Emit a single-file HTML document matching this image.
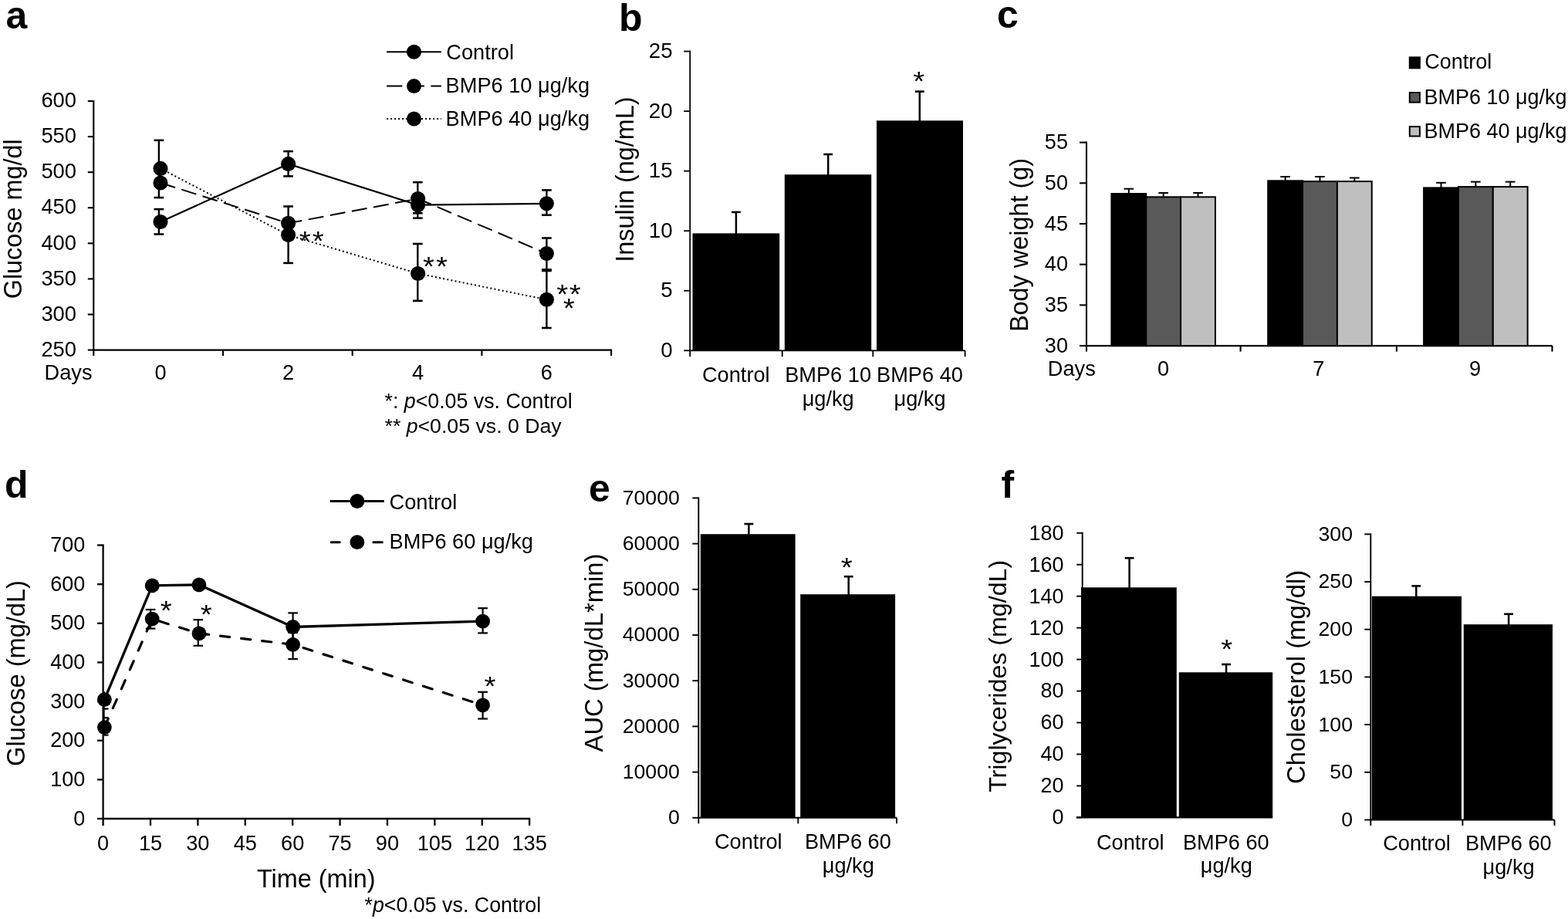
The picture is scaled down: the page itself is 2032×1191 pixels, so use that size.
<!DOCTYPE html>
<html><head><meta charset="utf-8"><title>Figure</title>
<style>
html,body{margin:0;padding:0;background:#fff;}
svg{display:block;}
text{font-family:"Liberation Sans",Arial,sans-serif;fill:#000;}
</style></head>
<body>
<svg width="2032" height="1191" viewBox="0 0 2032 1191">
<rect width="2032" height="1191" fill="#fff"/>
<g stroke="#000" fill="#000" stroke-linecap="butt">
<g font-weight="bold" font-size="50">
<text stroke="none" x="7.50" y="36.50" font-size="50" >a</text>
<text stroke="none" x="802.00" y="39.50" font-size="50" >b</text>
<text stroke="none" x="1292.00" y="36.00" font-size="50" >c</text>
<text stroke="none" x="6.00" y="645.00" font-size="50" >d</text>
<text stroke="none" x="763.00" y="650.00" font-size="50" >e</text>
<text stroke="none" x="1297.50" y="645.00" font-size="50" >f</text>
</g>
<line x1="121.30" y1="130.00" x2="121.30" y2="454.60" stroke-width="2.1" />
<line x1="120.30" y1="453.60" x2="793.10" y2="453.60" stroke-width="2.1" />
<line x1="113.80" y1="453.60" x2="121.30" y2="453.60" stroke-width="2.1" />
<text stroke="none" x="99.10" y="461.80" font-size="27.4" text-anchor="end" >250</text>
<line x1="113.80" y1="407.51" x2="121.30" y2="407.51" stroke-width="2.1" />
<text stroke="none" x="99.10" y="415.71" font-size="27.4" text-anchor="end" >300</text>
<line x1="113.80" y1="361.43" x2="121.30" y2="361.43" stroke-width="2.1" />
<text stroke="none" x="99.10" y="369.63" font-size="27.4" text-anchor="end" >350</text>
<line x1="113.80" y1="315.34" x2="121.30" y2="315.34" stroke-width="2.1" />
<text stroke="none" x="99.10" y="323.54" font-size="27.4" text-anchor="end" >400</text>
<line x1="113.80" y1="269.26" x2="121.30" y2="269.26" stroke-width="2.1" />
<text stroke="none" x="99.10" y="277.46" font-size="27.4" text-anchor="end" >450</text>
<line x1="113.80" y1="223.17" x2="121.30" y2="223.17" stroke-width="2.1" />
<text stroke="none" x="99.10" y="231.37" font-size="27.4" text-anchor="end" >500</text>
<line x1="113.80" y1="177.09" x2="121.30" y2="177.09" stroke-width="2.1" />
<text stroke="none" x="99.10" y="185.29" font-size="27.4" text-anchor="end" >550</text>
<line x1="113.80" y1="131.00" x2="121.30" y2="131.00" stroke-width="2.1" />
<text stroke="none" x="99.10" y="139.20" font-size="27.4" text-anchor="end" >600</text>
<line x1="121.30" y1="453.60" x2="121.30" y2="461.10" stroke-width="2.1" />
<line x1="289.00" y1="453.60" x2="289.00" y2="461.10" stroke-width="2.1" />
<line x1="456.70" y1="453.60" x2="456.70" y2="461.10" stroke-width="2.1" />
<line x1="624.40" y1="453.60" x2="624.40" y2="461.10" stroke-width="2.1" />
<line x1="792.10" y1="453.60" x2="792.10" y2="461.10" stroke-width="2.1" />
<text stroke="none" x="208.00" y="492.40" font-size="27.2" text-anchor="middle" >0</text>
<text stroke="none" x="373.60" y="492.40" font-size="27.2" text-anchor="middle" >2</text>
<text stroke="none" x="541.60" y="492.40" font-size="27.2" text-anchor="middle" >4</text>
<text stroke="none" x="708.40" y="492.40" font-size="27.2" text-anchor="middle" >6</text>
<text stroke="none" x="57.60" y="492.40" font-size="27.2" >Days</text>
<text stroke="none" transform="translate(28.20,283.80) rotate(-90)" font-size="32.4" text-anchor="middle">Glucose mg/dl</text>
<polyline points="208.00,287.50 373.60,212.40 541.60,265.70 708.40,263.80" fill="none" stroke-width="2.2"/>
<polyline points="208.00,237.00 373.60,289.30 541.60,257.50 708.40,328.60" fill="none" stroke-width="2" stroke-dasharray="20 8.6"/>
<polyline points="208.00,218.40 373.60,304.60 541.60,354.50 708.40,388.20" fill="none" stroke-width="2" stroke-dasharray="2 3.2"/>
<line x1="205.90" y1="271.10" x2="205.90" y2="303.50" stroke-width="2.4" />
<line x1="199.55" y1="271.10" x2="212.25" y2="271.10" stroke-width="2.6" />
<line x1="199.55" y1="303.50" x2="212.25" y2="303.50" stroke-width="2.6" />
<line x1="205.90" y1="181.80" x2="205.90" y2="256.10" stroke-width="2.4" />
<line x1="199.55" y1="181.80" x2="212.25" y2="181.80" stroke-width="2.6" />
<line x1="199.55" y1="256.10" x2="212.25" y2="256.10" stroke-width="2.6" />
<line x1="373.60" y1="196.10" x2="373.60" y2="228.40" stroke-width="2.4" />
<line x1="367.25" y1="196.10" x2="379.95" y2="196.10" stroke-width="2.6" />
<line x1="367.25" y1="228.40" x2="379.95" y2="228.40" stroke-width="2.6" />
<line x1="373.60" y1="267.50" x2="373.60" y2="340.90" stroke-width="2.4" />
<line x1="367.25" y1="267.50" x2="379.95" y2="267.50" stroke-width="2.6" />
<line x1="367.25" y1="340.90" x2="379.95" y2="340.90" stroke-width="2.6" />
<line x1="541.30" y1="236.20" x2="541.30" y2="282.70" stroke-width="2.4" />
<line x1="534.95" y1="236.20" x2="547.65" y2="236.20" stroke-width="2.6" />
<line x1="534.95" y1="282.70" x2="547.65" y2="282.70" stroke-width="2.6" />
<line x1="541.30" y1="276.30" x2="541.30" y2="276.30" stroke-width="2.4" />
<line x1="534.95" y1="276.30" x2="547.65" y2="276.30" stroke-width="2.6" />
<line x1="541.30" y1="316.00" x2="541.30" y2="389.90" stroke-width="2.4" />
<line x1="534.95" y1="316.00" x2="547.65" y2="316.00" stroke-width="2.6" />
<line x1="534.95" y1="389.90" x2="547.65" y2="389.90" stroke-width="2.6" />
<line x1="708.40" y1="246.40" x2="708.40" y2="278.70" stroke-width="2.4" />
<line x1="702.05" y1="246.40" x2="714.75" y2="246.40" stroke-width="2.6" />
<line x1="702.05" y1="278.70" x2="714.75" y2="278.70" stroke-width="2.6" />
<line x1="708.40" y1="308.50" x2="708.40" y2="425.00" stroke-width="2.4" />
<line x1="702.05" y1="308.50" x2="714.75" y2="308.50" stroke-width="2.6" />
<line x1="702.05" y1="425.00" x2="714.75" y2="425.00" stroke-width="2.6" />
<line x1="708.40" y1="350.20" x2="708.40" y2="350.20" stroke-width="2.4" />
<line x1="702.05" y1="350.20" x2="714.75" y2="350.20" stroke-width="2.6" />
<line x1="702.10" y1="350.20" x2="714.70" y2="350.20" stroke-width="4.2" />
<circle cx="208.00" cy="287.50" r="9.55" fill="#000" stroke="none"/>
<circle cx="373.60" cy="212.40" r="9.55" fill="#000" stroke="none"/>
<circle cx="541.60" cy="265.70" r="9.55" fill="#000" stroke="none"/>
<circle cx="708.40" cy="263.80" r="9.55" fill="#000" stroke="none"/>
<circle cx="208.00" cy="237.00" r="9.55" fill="#000" stroke="none"/>
<circle cx="373.60" cy="289.30" r="9.55" fill="#000" stroke="none"/>
<circle cx="541.60" cy="257.50" r="9.55" fill="#000" stroke="none"/>
<circle cx="708.40" cy="328.60" r="9.55" fill="#000" stroke="none"/>
<circle cx="208.00" cy="218.40" r="9.55" fill="#000" stroke="none"/>
<circle cx="373.60" cy="304.60" r="9.55" fill="#000" stroke="none"/>
<circle cx="541.60" cy="354.50" r="9.55" fill="#000" stroke="none"/>
<circle cx="708.40" cy="388.20" r="9.55" fill="#000" stroke="none"/>
<text stroke="none" transform="translate(395.35,305.90) scale(1,0.9)" x="-7.50" y="19.73" font-size="38.5" stroke="#000" stroke-width="0.45">*</text>
<text stroke="none" transform="translate(412.20,305.90) scale(1,0.9)" x="-7.50" y="19.73" font-size="38.5" stroke="#000" stroke-width="0.45">*</text>
<text stroke="none" transform="translate(555.40,339.35) scale(1,0.9)" x="-7.50" y="19.73" font-size="38.5" stroke="#000" stroke-width="0.45">*</text>
<text stroke="none" transform="translate(572.40,339.35) scale(1,0.9)" x="-7.50" y="19.73" font-size="38.5" stroke="#000" stroke-width="0.45">*</text>
<text stroke="none" transform="translate(728.85,375.00) scale(1,0.9)" x="-7.50" y="19.73" font-size="38.5" stroke="#000" stroke-width="0.45">*</text>
<text stroke="none" transform="translate(745.15,375.00) scale(1,0.9)" x="-7.50" y="19.73" font-size="38.5" stroke="#000" stroke-width="0.45">*</text>
<text stroke="none" transform="translate(737.35,392.80) scale(1,0.9)" x="-7.50" y="19.73" font-size="38.5" stroke="#000" stroke-width="0.45">*</text>
<line x1="501.10" y1="67.30" x2="571.90" y2="67.30" stroke-width="2" />
<circle cx="536.50" cy="67.30" r="9.5" fill="#000" stroke="none"/>
<line x1="501.10" y1="111.60" x2="571.90" y2="111.60" stroke-width="2" stroke-dasharray="20.2 8.4"/>
<circle cx="536.50" cy="111.60" r="9.5" fill="#000" stroke="none"/>
<line x1="501.10" y1="154.00" x2="571.90" y2="154.00" stroke-width="2" stroke-dasharray="2 3"/>
<circle cx="536.50" cy="154.00" r="9.5" fill="#000" stroke="none"/>
<text stroke="none" x="578.30" y="76.90" font-size="27.2" >Control</text>
<text stroke="none" x="577.60" y="119.70" font-size="27.2" >BMP6 10 μg/kg</text>
<text stroke="none" x="577.60" y="163.30" font-size="27.2" >BMP6 40 μg/kg</text>
<text stroke="none" x="498.50" y="528.80" font-size="26.75" >*: <tspan font-style="italic">p</tspan>&lt;0.05 vs. Control</text>
<text stroke="none" x="498.50" y="560.80" font-size="26.7" >** <tspan font-style="italic">p</tspan>&lt;0.05 vs. 0 Day</text>
<line x1="894.20" y1="65.55" x2="894.20" y2="455.30" stroke-width="1.8" />
<line x1="893.20" y1="454.30" x2="1250.80" y2="454.30" stroke-width="1.8" />
<line x1="886.20" y1="454.30" x2="894.20" y2="454.30" stroke-width="1.8" />
<text stroke="none" x="871.60" y="463.00" font-size="27.7" text-anchor="end" >0</text>
<line x1="886.20" y1="376.75" x2="894.20" y2="376.75" stroke-width="1.8" />
<text stroke="none" x="871.60" y="385.45" font-size="27.7" text-anchor="end" >5</text>
<line x1="886.20" y1="299.20" x2="894.20" y2="299.20" stroke-width="1.8" />
<text stroke="none" x="871.60" y="307.90" font-size="27.7" text-anchor="end" >10</text>
<line x1="886.20" y1="221.65" x2="894.20" y2="221.65" stroke-width="1.8" />
<text stroke="none" x="871.60" y="230.35" font-size="27.7" text-anchor="end" >15</text>
<line x1="886.20" y1="144.10" x2="894.20" y2="144.10" stroke-width="1.8" />
<text stroke="none" x="871.60" y="152.80" font-size="27.7" text-anchor="end" >20</text>
<line x1="886.20" y1="66.55" x2="894.20" y2="66.55" stroke-width="1.8" />
<text stroke="none" x="871.60" y="75.25" font-size="27.7" text-anchor="end" >25</text>
<line x1="894.20" y1="454.30" x2="894.20" y2="462.30" stroke-width="1.8" />
<line x1="1013.70" y1="454.30" x2="1013.70" y2="462.30" stroke-width="1.8" />
<line x1="1131.30" y1="454.30" x2="1131.30" y2="462.30" stroke-width="1.8" />
<line x1="1250.60" y1="454.30" x2="1250.60" y2="462.30" stroke-width="1.8" />
<rect x="897.50" y="302.40" width="112.70" height="151.90" fill="#000" stroke="none"/>
<rect x="1016.80" y="226.20" width="112.40" height="228.10" fill="#000" stroke="none"/>
<rect x="1136.00" y="156.30" width="112.00" height="298.00" fill="#000" stroke="none"/>
<line x1="953.90" y1="274.90" x2="953.90" y2="303.40" stroke-width="2.5" />
<line x1="948.00" y1="274.90" x2="959.80" y2="274.90" stroke-width="2.6" />
<line x1="1073.20" y1="200.00" x2="1073.20" y2="227.20" stroke-width="2.5" />
<line x1="1067.30" y1="200.00" x2="1079.10" y2="200.00" stroke-width="2.6" />
<line x1="1191.80" y1="118.60" x2="1191.80" y2="157.30" stroke-width="2.5" />
<line x1="1185.90" y1="118.60" x2="1197.70" y2="118.60" stroke-width="2.6" />
<text stroke="none" transform="translate(1190.75,99.30) scale(1,0.9)" x="-7.50" y="19.73" font-size="38.5" stroke="#000" stroke-width="0.45">*</text>
<text stroke="none" x="953.80" y="494.90" font-size="27.2" text-anchor="middle" >Control</text>
<text stroke="none" x="1073.10" y="494.90" font-size="27.2" text-anchor="middle" >BMP6 10</text>
<text stroke="none" x="1073.20" y="525.70" font-size="27.2" text-anchor="middle" >μg/kg</text>
<text stroke="none" x="1192.00" y="494.90" font-size="27.2" text-anchor="middle" >BMP6 40</text>
<text stroke="none" x="1192.00" y="525.70" font-size="27.2" text-anchor="middle" >μg/kg</text>
<text stroke="none" transform="translate(821.00,232.60) rotate(-90)" font-size="32.4" text-anchor="middle">Insulin (ng/mL)</text>
<line x1="1408.00" y1="183.60" x2="1408.00" y2="449.10" stroke-width="2.1" />
<line x1="1407.00" y1="448.10" x2="2011.50" y2="448.10" stroke-width="2.1" />
<line x1="1399.00" y1="448.10" x2="1408.00" y2="448.10" stroke-width="2.1" />
<text stroke="none" x="1384.00" y="456.80" font-size="27.1" text-anchor="end" >30</text>
<line x1="1399.00" y1="395.40" x2="1408.00" y2="395.40" stroke-width="2.1" />
<text stroke="none" x="1384.00" y="404.10" font-size="27.1" text-anchor="end" >35</text>
<line x1="1399.00" y1="342.70" x2="1408.00" y2="342.70" stroke-width="2.1" />
<text stroke="none" x="1384.00" y="351.40" font-size="27.1" text-anchor="end" >40</text>
<line x1="1399.00" y1="290.00" x2="1408.00" y2="290.00" stroke-width="2.1" />
<text stroke="none" x="1384.00" y="298.70" font-size="27.1" text-anchor="end" >45</text>
<line x1="1399.00" y1="237.30" x2="1408.00" y2="237.30" stroke-width="2.1" />
<text stroke="none" x="1384.00" y="246.00" font-size="27.1" text-anchor="end" >50</text>
<line x1="1399.00" y1="184.60" x2="1408.00" y2="184.60" stroke-width="2.1" />
<text stroke="none" x="1384.00" y="193.30" font-size="27.1" text-anchor="end" >55</text>
<line x1="1408.00" y1="448.10" x2="1408.00" y2="455.60" stroke-width="2.1" />
<line x1="1607.60" y1="448.10" x2="1607.60" y2="455.60" stroke-width="2.1" />
<line x1="1809.90" y1="448.10" x2="1809.90" y2="455.60" stroke-width="2.1" />
<line x1="2011.50" y1="448.10" x2="2011.50" y2="455.60" stroke-width="2.1" />
<rect x="1440.40" y="251.00" width="44.85" height="197.10" fill="#000000" stroke="#000" stroke-width="2"/>
<rect x="1485.25" y="255.30" width="44.85" height="192.80" fill="#595959" stroke="#000" stroke-width="2"/>
<rect x="1530.10" y="255.30" width="44.85" height="192.80" fill="#bfbfbf" stroke="#000" stroke-width="2"/>
<line x1="1462.82" y1="244.70" x2="1462.82" y2="251.00" stroke-width="2" />
<line x1="1456.52" y1="244.70" x2="1469.12" y2="244.70" stroke-width="2" />
<line x1="1507.67" y1="250.00" x2="1507.67" y2="255.30" stroke-width="2" />
<line x1="1501.37" y1="250.00" x2="1513.97" y2="250.00" stroke-width="2" />
<line x1="1552.52" y1="250.00" x2="1552.52" y2="255.30" stroke-width="2" />
<line x1="1546.22" y1="250.00" x2="1558.82" y2="250.00" stroke-width="2" />
<rect x="1643.20" y="234.30" width="44.85" height="213.80" fill="#000000" stroke="#000" stroke-width="2"/>
<rect x="1688.05" y="235.10" width="44.85" height="213.00" fill="#595959" stroke="#000" stroke-width="2"/>
<rect x="1732.90" y="235.10" width="44.85" height="213.00" fill="#bfbfbf" stroke="#000" stroke-width="2"/>
<line x1="1665.62" y1="229.00" x2="1665.62" y2="234.30" stroke-width="2" />
<line x1="1659.32" y1="229.00" x2="1671.92" y2="229.00" stroke-width="2" />
<line x1="1710.47" y1="229.00" x2="1710.47" y2="235.10" stroke-width="2" />
<line x1="1704.17" y1="229.00" x2="1716.77" y2="229.00" stroke-width="2" />
<line x1="1755.32" y1="230.50" x2="1755.32" y2="235.10" stroke-width="2" />
<line x1="1749.02" y1="230.50" x2="1761.62" y2="230.50" stroke-width="2" />
<rect x="1845.10" y="243.40" width="44.85" height="204.70" fill="#000000" stroke="#000" stroke-width="2"/>
<rect x="1889.95" y="242.10" width="44.85" height="206.00" fill="#595959" stroke="#000" stroke-width="2"/>
<rect x="1934.80" y="242.10" width="44.85" height="206.00" fill="#bfbfbf" stroke="#000" stroke-width="2"/>
<line x1="1867.52" y1="236.80" x2="1867.52" y2="243.40" stroke-width="2" />
<line x1="1861.22" y1="236.80" x2="1873.82" y2="236.80" stroke-width="2" />
<line x1="1912.37" y1="235.60" x2="1912.37" y2="242.10" stroke-width="2" />
<line x1="1906.07" y1="235.60" x2="1918.67" y2="235.60" stroke-width="2" />
<line x1="1957.22" y1="235.60" x2="1957.22" y2="242.10" stroke-width="2" />
<line x1="1950.92" y1="235.60" x2="1963.52" y2="235.60" stroke-width="2" />
<text stroke="none" x="1507.60" y="486.90" font-size="27.2" text-anchor="middle" >0</text>
<text stroke="none" x="1708.90" y="486.90" font-size="27.2" text-anchor="middle" >7</text>
<text stroke="none" x="1911.50" y="486.90" font-size="27.2" text-anchor="middle" >9</text>
<text stroke="none" x="1357.80" y="486.90" font-size="27.2" >Days</text>
<text stroke="none" transform="translate(1332.00,317.50) rotate(-90)" font-size="32.4" text-anchor="middle">Body weight (g)</text>
<rect x="1826.80" y="74.30" width="13.10" height="14.00" fill="#000000" stroke="#000" stroke-width="2"/>
<rect x="1826.80" y="120.00" width="13.10" height="12.60" fill="#595959" stroke="#000" stroke-width="2"/>
<rect x="1826.80" y="164.10" width="13.10" height="12.40" fill="#bfbfbf" stroke="#000" stroke-width="2"/>
<text stroke="none" x="1846.20" y="89.30" font-size="27.0" >Control</text>
<text stroke="none" x="1845.50" y="134.60" font-size="26.97" >BMP6 10 μg/kg</text>
<text stroke="none" x="1845.50" y="178.50" font-size="26.97" >BMP6 40 μg/kg</text>
<line x1="133.60" y1="705.52" x2="133.60" y2="1062.00" stroke-width="2.3" />
<line x1="132.60" y1="1061.00" x2="687.15" y2="1061.00" stroke-width="2.3" />
<line x1="126.10" y1="1061.00" x2="133.60" y2="1061.00" stroke-width="2.3" />
<text stroke="none" x="110.30" y="1069.50" font-size="27.05" text-anchor="end" >0</text>
<line x1="126.10" y1="1010.36" x2="133.60" y2="1010.36" stroke-width="2.3" />
<text stroke="none" x="110.30" y="1018.86" font-size="27.05" text-anchor="end" >100</text>
<line x1="126.10" y1="959.72" x2="133.60" y2="959.72" stroke-width="2.3" />
<text stroke="none" x="110.30" y="968.22" font-size="27.05" text-anchor="end" >200</text>
<line x1="126.10" y1="909.08" x2="133.60" y2="909.08" stroke-width="2.3" />
<text stroke="none" x="110.30" y="917.58" font-size="27.05" text-anchor="end" >300</text>
<line x1="126.10" y1="858.44" x2="133.60" y2="858.44" stroke-width="2.3" />
<text stroke="none" x="110.30" y="866.94" font-size="27.05" text-anchor="end" >400</text>
<line x1="126.10" y1="807.80" x2="133.60" y2="807.80" stroke-width="2.3" />
<text stroke="none" x="110.30" y="816.30" font-size="27.05" text-anchor="end" >500</text>
<line x1="126.10" y1="757.16" x2="133.60" y2="757.16" stroke-width="2.3" />
<text stroke="none" x="110.30" y="765.66" font-size="27.05" text-anchor="end" >600</text>
<line x1="126.10" y1="706.52" x2="133.60" y2="706.52" stroke-width="2.3" />
<text stroke="none" x="110.30" y="715.02" font-size="27.05" text-anchor="end" >700</text>
<line x1="133.60" y1="1061.00" x2="133.60" y2="1070.00" stroke-width="2.3" />
<text stroke="none" x="133.60" y="1102.40" font-size="27.2" text-anchor="middle" >0</text>
<line x1="195.00" y1="1061.00" x2="195.00" y2="1070.00" stroke-width="2.3" />
<text stroke="none" x="195.00" y="1102.40" font-size="27.2" text-anchor="middle" >15</text>
<line x1="256.39" y1="1061.00" x2="256.39" y2="1070.00" stroke-width="2.3" />
<text stroke="none" x="256.39" y="1102.40" font-size="27.2" text-anchor="middle" >30</text>
<line x1="317.78" y1="1061.00" x2="317.78" y2="1070.00" stroke-width="2.3" />
<text stroke="none" x="317.78" y="1102.40" font-size="27.2" text-anchor="middle" >45</text>
<line x1="379.18" y1="1061.00" x2="379.18" y2="1070.00" stroke-width="2.3" />
<text stroke="none" x="379.18" y="1102.40" font-size="27.2" text-anchor="middle" >60</text>
<line x1="440.58" y1="1061.00" x2="440.58" y2="1070.00" stroke-width="2.3" />
<text stroke="none" x="440.58" y="1102.40" font-size="27.2" text-anchor="middle" >75</text>
<line x1="501.97" y1="1061.00" x2="501.97" y2="1070.00" stroke-width="2.3" />
<text stroke="none" x="501.97" y="1102.40" font-size="27.2" text-anchor="middle" >90</text>
<line x1="563.37" y1="1061.00" x2="563.37" y2="1070.00" stroke-width="2.3" />
<text stroke="none" x="563.37" y="1102.40" font-size="27.2" text-anchor="middle" >105</text>
<line x1="624.76" y1="1061.00" x2="624.76" y2="1070.00" stroke-width="2.3" />
<text stroke="none" x="624.76" y="1102.40" font-size="27.2" text-anchor="middle" >120</text>
<line x1="686.15" y1="1061.00" x2="686.15" y2="1070.00" stroke-width="2.3" />
<text stroke="none" x="686.15" y="1102.40" font-size="27.2" text-anchor="middle" >135</text>
<text stroke="none" x="409.80" y="1150.00" font-size="32.4" text-anchor="middle" >Time (min)</text>
<text stroke="none" transform="translate(31.60,872.50) rotate(-90)" font-size="32.6" text-anchor="middle">Glucose (mg/dL)</text>
<polyline points="135.40,906.60 197.20,758.90 258.00,757.90 379.60,812.50 625.60,805.20" fill="none" stroke-width="3.3" stroke-linejoin="round"/>
<polyline points="135.40,942.60 197.20,802.20 258.00,820.90 379.60,835.30 625.60,913.80" fill="none" stroke-width="3.2" stroke-dasharray="12.2 15" stroke-linecap="round"/>
<line x1="195.10" y1="790.00" x2="195.10" y2="814.60" stroke-width="2.2" />
<line x1="188.80" y1="790.00" x2="201.40" y2="790.00" stroke-width="2.2" />
<line x1="188.80" y1="814.60" x2="201.40" y2="814.60" stroke-width="2.2" />
<line x1="256.80" y1="803.20" x2="256.80" y2="836.80" stroke-width="2.2" />
<line x1="250.50" y1="803.20" x2="263.10" y2="803.20" stroke-width="2.2" />
<line x1="250.50" y1="836.80" x2="263.10" y2="836.80" stroke-width="2.2" />
<line x1="379.60" y1="794.40" x2="379.60" y2="830.00" stroke-width="2.2" />
<line x1="373.30" y1="794.40" x2="385.90" y2="794.40" stroke-width="2.2" />
<line x1="373.30" y1="830.00" x2="385.90" y2="830.00" stroke-width="2.2" />
<line x1="379.60" y1="820.00" x2="379.60" y2="854.10" stroke-width="2.2" />
<line x1="373.30" y1="820.00" x2="385.90" y2="820.00" stroke-width="2.2" />
<line x1="373.30" y1="854.10" x2="385.90" y2="854.10" stroke-width="2.2" />
<line x1="625.60" y1="788.20" x2="625.60" y2="820.40" stroke-width="2.2" />
<line x1="619.30" y1="788.20" x2="631.90" y2="788.20" stroke-width="2.2" />
<line x1="619.30" y1="820.40" x2="631.90" y2="820.40" stroke-width="2.2" />
<line x1="625.60" y1="896.80" x2="625.60" y2="931.50" stroke-width="2.2" />
<line x1="619.30" y1="896.80" x2="631.90" y2="896.80" stroke-width="2.2" />
<line x1="619.30" y1="931.50" x2="631.90" y2="931.50" stroke-width="2.2" />
<line x1="134.60" y1="896.00" x2="134.60" y2="952.60" stroke-width="2.2" />
<line x1="133.60" y1="918.60" x2="140.50" y2="918.60" stroke-width="2.2" />
<line x1="133.60" y1="930.20" x2="140.50" y2="930.20" stroke-width="2.2" />
<line x1="133.60" y1="952.60" x2="140.50" y2="952.60" stroke-width="2.2" />
<circle cx="135.40" cy="906.60" r="9.4" fill="#000" stroke="none"/>
<circle cx="197.20" cy="758.90" r="9.4" fill="#000" stroke="none"/>
<circle cx="258.00" cy="757.90" r="9.4" fill="#000" stroke="none"/>
<circle cx="379.60" cy="812.50" r="9.4" fill="#000" stroke="none"/>
<circle cx="625.60" cy="805.20" r="9.4" fill="#000" stroke="none"/>
<circle cx="135.40" cy="942.60" r="9.4" fill="#000" stroke="none"/>
<circle cx="197.20" cy="802.20" r="9.4" fill="#000" stroke="none"/>
<circle cx="258.00" cy="820.90" r="9.4" fill="#000" stroke="none"/>
<circle cx="379.60" cy="835.30" r="9.4" fill="#000" stroke="none"/>
<circle cx="625.60" cy="913.80" r="9.4" fill="#000" stroke="none"/>
<text stroke="none" transform="translate(215.20,784.75) scale(1,0.9)" x="-7.50" y="19.73" font-size="38.5" stroke="#000" stroke-width="0.45">*</text>
<text stroke="none" transform="translate(267.20,790.55) scale(1,0.9)" x="-7.50" y="19.73" font-size="38.5" stroke="#000" stroke-width="0.45">*</text>
<text stroke="none" transform="translate(635.00,883.00) scale(1,0.9)" x="-7.50" y="19.73" font-size="38.5" stroke="#000" stroke-width="0.45">*</text>
<line x1="427.70" y1="649.50" x2="497.80" y2="649.50" stroke-width="3" />
<line x1="429.20" y1="702.70" x2="440.20" y2="702.70" stroke-width="3" stroke-linecap="round"/>
<line x1="483.80" y1="702.70" x2="495.30" y2="702.70" stroke-width="3" stroke-linecap="round"/>
<circle cx="462.90" cy="649.50" r="9.4" fill="#000" stroke="none"/>
<circle cx="462.90" cy="702.70" r="9.4" fill="#000" stroke="none"/>
<text stroke="none" x="504.60" y="659.60" font-size="27.2" >Control</text>
<text stroke="none" x="504.50" y="710.80" font-size="27.2" >BMP6 60 μg/kg</text>
<text stroke="none" x="472.50" y="1181.50" font-size="26.8" >*<tspan font-style="italic">p</tspan>&lt;0.05 vs. Control</text>
<line x1="905.30" y1="644.40" x2="905.30" y2="1060.80" stroke-width="1.9" />
<line x1="904.30" y1="1059.80" x2="1162.00" y2="1059.80" stroke-width="1.9" />
<line x1="897.30" y1="1059.80" x2="905.30" y2="1059.80" stroke-width="1.9" />
<text stroke="none" x="880.80" y="1068.20" font-size="26.65" text-anchor="end" >0</text>
<line x1="897.30" y1="1000.60" x2="905.30" y2="1000.60" stroke-width="1.9" />
<text stroke="none" x="880.80" y="1009.00" font-size="26.65" text-anchor="end" >10000</text>
<line x1="897.30" y1="941.40" x2="905.30" y2="941.40" stroke-width="1.9" />
<text stroke="none" x="880.80" y="949.80" font-size="26.65" text-anchor="end" >20000</text>
<line x1="897.30" y1="882.20" x2="905.30" y2="882.20" stroke-width="1.9" />
<text stroke="none" x="880.80" y="890.60" font-size="26.65" text-anchor="end" >30000</text>
<line x1="897.30" y1="823.00" x2="905.30" y2="823.00" stroke-width="1.9" />
<text stroke="none" x="880.80" y="831.40" font-size="26.65" text-anchor="end" >40000</text>
<line x1="897.30" y1="763.80" x2="905.30" y2="763.80" stroke-width="1.9" />
<text stroke="none" x="880.80" y="772.20" font-size="26.65" text-anchor="end" >50000</text>
<line x1="897.30" y1="704.60" x2="905.30" y2="704.60" stroke-width="1.9" />
<text stroke="none" x="880.80" y="713.00" font-size="26.65" text-anchor="end" >60000</text>
<line x1="897.30" y1="645.40" x2="905.30" y2="645.40" stroke-width="1.9" />
<text stroke="none" x="880.80" y="653.80" font-size="26.65" text-anchor="end" >70000</text>
<line x1="905.30" y1="1059.80" x2="905.30" y2="1067.30" stroke-width="1.9" />
<line x1="1034.30" y1="1059.80" x2="1034.30" y2="1067.30" stroke-width="1.9" />
<line x1="1162.00" y1="1059.80" x2="1162.00" y2="1067.30" stroke-width="1.9" />
<rect x="907.80" y="692.20" width="122.80" height="367.60" fill="#000" stroke="none"/>
<rect x="1037.20" y="770.20" width="122.90" height="289.60" fill="#000" stroke="none"/>
<line x1="970.40" y1="679.00" x2="970.40" y2="693.20" stroke-width="2.5" />
<line x1="964.50" y1="679.00" x2="976.30" y2="679.00" stroke-width="2.6" />
<line x1="1099.70" y1="747.20" x2="1099.70" y2="771.20" stroke-width="2.5" />
<line x1="1093.80" y1="747.20" x2="1105.60" y2="747.20" stroke-width="2.6" />
<text stroke="none" transform="translate(1097.35,729.25) scale(1,0.9)" x="-7.50" y="19.73" font-size="38.5" stroke="#000" stroke-width="0.45">*</text>
<text stroke="none" x="969.80" y="1099.60" font-size="27.2" text-anchor="middle" >Control</text>
<text stroke="none" x="1098.90" y="1099.60" font-size="27.2" text-anchor="middle" >BMP6 60</text>
<text stroke="none" x="1099.30" y="1130.60" font-size="27.2" text-anchor="middle" >μg/kg</text>
<text stroke="none" transform="translate(781.10,846.00) rotate(-90)" font-size="32.8" text-anchor="middle">AUC (mg/dL*min)</text>
<line x1="1402.70" y1="689.76" x2="1402.70" y2="1059.40" stroke-width="1.9" />
<line x1="1394.80" y1="1059.40" x2="1649.20" y2="1059.40" stroke-width="2.2" />
<line x1="1395.20" y1="1059.40" x2="1402.70" y2="1059.40" stroke-width="1.9" />
<text stroke="none" x="1378.60" y="1068.30" font-size="27.0" text-anchor="end" >0</text>
<line x1="1395.20" y1="1018.44" x2="1402.70" y2="1018.44" stroke-width="1.9" />
<text stroke="none" x="1378.60" y="1027.34" font-size="27.0" text-anchor="end" >20</text>
<line x1="1395.20" y1="977.48" x2="1402.70" y2="977.48" stroke-width="1.9" />
<text stroke="none" x="1378.60" y="986.38" font-size="27.0" text-anchor="end" >40</text>
<line x1="1395.20" y1="936.52" x2="1402.70" y2="936.52" stroke-width="1.9" />
<text stroke="none" x="1378.60" y="945.42" font-size="27.0" text-anchor="end" >60</text>
<line x1="1395.20" y1="895.56" x2="1402.70" y2="895.56" stroke-width="1.9" />
<text stroke="none" x="1378.60" y="904.46" font-size="27.0" text-anchor="end" >80</text>
<line x1="1395.20" y1="854.60" x2="1402.70" y2="854.60" stroke-width="1.9" />
<text stroke="none" x="1378.60" y="863.50" font-size="27.0" text-anchor="end" >100</text>
<line x1="1395.20" y1="813.64" x2="1402.70" y2="813.64" stroke-width="1.9" />
<text stroke="none" x="1378.60" y="822.54" font-size="27.0" text-anchor="end" >120</text>
<line x1="1395.20" y1="772.68" x2="1402.70" y2="772.68" stroke-width="1.9" />
<text stroke="none" x="1378.60" y="781.58" font-size="27.0" text-anchor="end" >140</text>
<line x1="1395.20" y1="731.72" x2="1402.70" y2="731.72" stroke-width="1.9" />
<text stroke="none" x="1378.60" y="740.62" font-size="27.0" text-anchor="end" >160</text>
<line x1="1395.20" y1="690.76" x2="1402.70" y2="690.76" stroke-width="1.9" />
<text stroke="none" x="1378.60" y="699.66" font-size="27.0" text-anchor="end" >180</text>
<rect x="1401.00" y="761.30" width="123.80" height="298.10" fill="#000" stroke="none"/>
<rect x="1527.80" y="871.30" width="121.40" height="188.10" fill="#000" stroke="none"/>
<line x1="1463.60" y1="723.20" x2="1463.60" y2="762.30" stroke-width="2.5" />
<line x1="1457.70" y1="723.20" x2="1469.50" y2="723.20" stroke-width="2.6" />
<line x1="1589.10" y1="861.00" x2="1589.10" y2="872.30" stroke-width="2.5" />
<line x1="1583.20" y1="861.00" x2="1595.00" y2="861.00" stroke-width="2.6" />
<text stroke="none" transform="translate(1589.75,835.50) scale(1,0.9)" x="-7.50" y="19.73" font-size="38.5" stroke="#000" stroke-width="0.45">*</text>
<text stroke="none" x="1464.80" y="1100.50" font-size="27.2" text-anchor="middle" >Control</text>
<text stroke="none" x="1588.80" y="1100.50" font-size="27.2" text-anchor="middle" >BMP6 60</text>
<text stroke="none" x="1589.30" y="1131.40" font-size="27.2" text-anchor="middle" >μg/kg</text>
<text stroke="none" transform="translate(1304.10,876.30) rotate(-90)" font-size="32.2" text-anchor="middle">Triglycerides (mg/dL)</text>
<line x1="1776.30" y1="691.30" x2="1776.30" y2="1063.50" stroke-width="1.9" />
<line x1="1775.30" y1="1062.50" x2="2014.50" y2="1062.50" stroke-width="1.9" />
<line x1="1768.30" y1="1062.50" x2="1776.30" y2="1062.50" stroke-width="1.9" />
<text stroke="none" x="1753.00" y="1070.90" font-size="26.65" text-anchor="end" >0</text>
<line x1="1768.30" y1="1000.80" x2="1776.30" y2="1000.80" stroke-width="1.9" />
<text stroke="none" x="1753.00" y="1009.20" font-size="26.65" text-anchor="end" >50</text>
<line x1="1768.30" y1="939.10" x2="1776.30" y2="939.10" stroke-width="1.9" />
<text stroke="none" x="1753.00" y="947.50" font-size="26.65" text-anchor="end" >100</text>
<line x1="1768.30" y1="877.40" x2="1776.30" y2="877.40" stroke-width="1.9" />
<text stroke="none" x="1753.00" y="885.80" font-size="26.65" text-anchor="end" >150</text>
<line x1="1768.30" y1="815.70" x2="1776.30" y2="815.70" stroke-width="1.9" />
<text stroke="none" x="1753.00" y="824.10" font-size="26.65" text-anchor="end" >200</text>
<line x1="1768.30" y1="754.00" x2="1776.30" y2="754.00" stroke-width="1.9" />
<text stroke="none" x="1753.00" y="762.40" font-size="26.65" text-anchor="end" >250</text>
<line x1="1768.30" y1="692.30" x2="1776.30" y2="692.30" stroke-width="1.9" />
<text stroke="none" x="1753.00" y="700.70" font-size="26.65" text-anchor="end" >300</text>
<line x1="1776.30" y1="1062.50" x2="1776.30" y2="1070.00" stroke-width="1.9" />
<line x1="1895.40" y1="1062.50" x2="1895.40" y2="1070.00" stroke-width="1.9" />
<line x1="2014.50" y1="1062.50" x2="2014.50" y2="1070.00" stroke-width="1.9" />
<rect x="1777.80" y="772.70" width="116.20" height="289.80" fill="#000" stroke="none"/>
<rect x="1896.80" y="809.20" width="115.20" height="253.30" fill="#000" stroke="none"/>
<line x1="1835.30" y1="759.40" x2="1835.30" y2="773.70" stroke-width="2.5" />
<line x1="1829.40" y1="759.40" x2="1841.20" y2="759.40" stroke-width="2.6" />
<line x1="1955.10" y1="795.80" x2="1955.10" y2="810.20" stroke-width="2.5" />
<line x1="1949.20" y1="795.80" x2="1961.00" y2="795.80" stroke-width="2.6" />
<text stroke="none" x="1836.00" y="1102.20" font-size="27.2" text-anchor="middle" >Control</text>
<text stroke="none" x="1954.80" y="1102.20" font-size="27.2" text-anchor="middle" >BMP6 60</text>
<text stroke="none" x="1955.10" y="1133.20" font-size="27.2" text-anchor="middle" >μg/kg</text>
<text stroke="none" transform="translate(1690.80,877.35) rotate(-90)" font-size="32.85" text-anchor="middle">Cholesterol (mg/dl)</text>
</g>
</svg>
</body></html>
